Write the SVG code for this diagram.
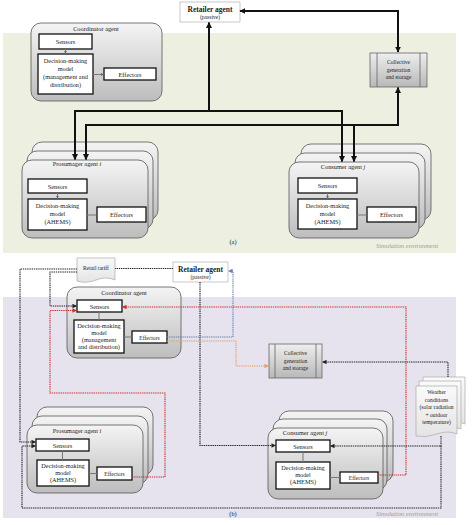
<svg xmlns="http://www.w3.org/2000/svg" width="474" height="525" viewBox="0 0 474 525">
<defs>
<linearGradient id="ag" x1="0" y1="0" x2="0" y2="1"><stop offset="0" stop-color="#f4f4f4"/><stop offset="1" stop-color="#bdbdbd"/></linearGradient>
<linearGradient id="cg" x1="0" y1="0" x2="0" y2="1"><stop offset="0" stop-color="#eeeeee"/><stop offset="1" stop-color="#b8b8b8"/></linearGradient>
<linearGradient id="dg" x1="0" y1="0" x2="0" y2="1"><stop offset="0" stop-color="#fafafa"/><stop offset="1" stop-color="#e4e4e4"/></linearGradient>
<marker id="ak" viewBox="0 0 10 10" refX="9" refY="5" markerWidth="6" markerHeight="6" markerUnits="userSpaceOnUse" orient="auto-start-reverse"><path d="M0,0 L10,5 L0,10 z" fill="#111"/></marker>
<marker id="ad" viewBox="0 0 10 10" refX="9" refY="5" markerWidth="4.5" markerHeight="4.5" markerUnits="userSpaceOnUse" orient="auto-start-reverse"><path d="M0,0 L10,5 L0,10 z" fill="#222"/></marker>
<marker id="ar" viewBox="0 0 10 10" refX="9" refY="5" markerWidth="4.5" markerHeight="4.5" markerUnits="userSpaceOnUse" orient="auto-start-reverse"><path d="M0,0 L10,5 L0,10 z" fill="#c8302f"/></marker>
<marker id="ab" viewBox="0 0 10 10" refX="9" refY="5" markerWidth="4.5" markerHeight="4.5" markerUnits="userSpaceOnUse" orient="auto-start-reverse"><path d="M0,0 L10,5 L0,10 z" fill="#6a7fb5"/></marker>
<marker id="ao" viewBox="0 0 10 10" refX="9" refY="5" markerWidth="4.5" markerHeight="4.5" markerUnits="userSpaceOnUse" orient="auto-start-reverse"><path d="M0,0 L10,5 L0,10 z" fill="#e0a070"/></marker>
<marker id="as" viewBox="0 0 10 10" refX="9" refY="5" markerWidth="3" markerHeight="3" markerUnits="userSpaceOnUse" orient="auto-start-reverse"><path d="M0,0 L10,5 L0,10 z" fill="#666"/></marker>
<style>
text{font-family:"Liberation Serif","Times New Roman",serif;fill:#222;text-anchor:middle}
.t{font-size:6.3px}
.s{font-size:5.6px}
.rt{font-size:7.5px;font-weight:bold}
.it{font-style:italic;fill:#9a9a9a;font-size:6.5px;text-anchor:end}
.agent{fill:url(#ag);stroke:#555;stroke-width:0.8}
.box{fill:#fff;stroke:#111;stroke-width:1.3}
.ret{fill:#fff;stroke:#bbb;stroke-width:0.8}
.coll{fill:url(#cg);stroke:#666;stroke-width:0.8}
.in{stroke:#666;stroke-width:0.8;fill:none}
.doc{fill:url(#dg);stroke:#aaa;stroke-width:0.7}
.thick{fill:none;stroke:#111;stroke-width:2}
.bd{fill:none;stroke:#222;stroke-width:1.1;stroke-dasharray:1.4 0.8}
.rd{fill:none;stroke:#c8302f;stroke-width:1.1;stroke-dasharray:1.4 0.8}
.bl{fill:none;stroke:#6a7fb5;stroke-width:1.1;stroke-dasharray:1.4 0.8}
.or{fill:none;stroke:#e0a070;stroke-width:1.1;stroke-dasharray:1.4 0.8}
.lk{stroke:#777;stroke-width:1;fill:none}
</style>
</defs>

<!-- backgrounds -->
<rect x="3" y="33" width="453" height="220" fill="#edf0e1"/>
<rect x="3" y="297" width="453" height="221" fill="#e7e3ee"/>
<text x="233" y="244" class="t">(a)</text>
<text x="438" y="248" class="it">Simulation environment</text>
<text x="233" y="516" class="t">(b)</text>
<text x="438" y="516" class="it">Simulation environment</text>

<!-- ===== (a) ===== -->
<g id="a-retailer">
<rect class="ret" x="180" y="2" width="60" height="20"/>
<text x="210" y="12" class="rt">Retailer agent</text>
<text x="210" y="19" class="s">(passive)</text>
</g>
<g id="a-coordinator">
<rect class="agent" x="31" y="23" width="131" height="78" rx="10"/>
<text x="96" y="30.5" class="t">Coordinator agent</text>
<rect class="box" x="39" y="34" width="53" height="15"/>
<text x="65.5" y="44" class="t">Sensors</text>
<rect class="box" x="38" y="54" width="55" height="40"/>
<text x="65.5" y="63" class="t">Decision-making</text>
<text x="65.5" y="71" class="t">model</text>
<text x="65.5" y="79" class="t">(management and</text>
<text x="65.5" y="87" class="t">distribution)</text>
<rect class="box" x="104" y="68" width="52" height="12"/>
<text x="130" y="76.5" class="t">Effectors</text>
<path class="lk" d="M65.5,49 V53.5" marker-end="url(#as)"/>
<path class="lk" d="M93,74.5 H103.5" marker-end="url(#as)"/>
</g>
<g id="a-collective">
<rect class="coll" x="370" y="53" width="57" height="34"/>
<path class="in" d="M377,53 V87 M420,53 V87"/>
<text x="398.5" y="64" class="s">Collective</text>
<text x="398.5" y="71.5" class="s">generation</text>
<text x="398.5" y="79" class="s">and storage</text>
</g>
<g id="a-prosumager">
<rect class="agent" x="32" y="142" width="126" height="78" rx="10"/>
<rect class="agent" x="27" y="151" width="126" height="78" rx="10"/>
<rect class="agent" x="22" y="160" width="126" height="78" rx="10"/>
<text x="77" y="166" class="t">Prosumager  agent <tspan font-style="italic">i</tspan></text>
<rect class="box" x="28" y="179" width="59" height="14"/>
<text x="57.5" y="188.5" class="t">Sensors</text>
<rect class="box" x="28" y="199" width="59" height="31"/>
<text x="57.5" y="207.5" class="t">Decision-making</text>
<text x="57.5" y="215.5" class="t">model</text>
<text x="57.5" y="223.5" class="t">(AHEMS)</text>
<rect class="box" x="97" y="207" width="49" height="15"/>
<text x="121.5" y="216.5" class="t">Effectors</text>
<path class="lk" d="M57.5,193 V198.5" marker-end="url(#as)"/>
<path class="lk" d="M87,215 H96.5"/>
</g>
<g id="a-consumer">
<rect class="agent" x="301" y="144" width="130" height="76" rx="10"/>
<rect class="agent" x="295" y="153" width="130" height="76" rx="10"/>
<rect class="agent" x="289" y="162" width="130" height="76" rx="10"/>
<text x="343" y="169" class="t">Consumer agent <tspan font-style="italic">j</tspan></text>
<rect class="box" x="298" y="178" width="59" height="15"/>
<text x="327.5" y="188" class="t">Sensors</text>
<rect class="box" x="298" y="199" width="59" height="30"/>
<text x="327.5" y="207.5" class="t">Decision-making</text>
<text x="327.5" y="215.5" class="t">model</text>
<text x="327.5" y="223.5" class="t">(AHEMS)</text>
<rect class="box" x="367" y="207" width="49" height="15"/>
<text x="391.5" y="216.5" class="t">Effectors</text>
<path class="lk" d="M327.5,193 V198.5" marker-end="url(#as)"/>
<path class="lk" d="M357,215 H366.5"/>
</g>
<g id="a-connectors">
<path class="thick" d="M240,11 H398 V52" marker-start="url(#ak)" marker-end="url(#ak)"/>
<path class="thick" d="M209,111 V22.5" marker-end="url(#ak)"/>
<path class="thick" d="M75,159.5 V111 H342 V161.5" marker-start="url(#ak)" marker-end="url(#ak)"/>
<path class="thick" d="M86,159.5 V125 H398 V87.5" marker-start="url(#ak)" marker-end="url(#ak)"/>
<path class="thick" d="M354,125 V161.5" marker-end="url(#ak)"/>
</g>

<!-- ===== (b) ===== -->
<g id="b-tariff">
<path class="doc" d="M77,258 H115 V280 Q106,276 96,280 T77,281 Z"/>
<text x="96" y="270" class="s">Retail tariff</text>
</g>
<g id="b-retailer">
<rect class="ret" x="173" y="262" width="55" height="20"/>
<text x="200.5" y="271.5" class="rt">Retailer agent</text>
<text x="200.5" y="278.5" class="s">(passive)</text>
</g>
<g id="b-coordinator">
<rect class="agent" x="67" y="287" width="114" height="71" rx="10"/>
<text x="124" y="294.5" class="t">Coordinator agent</text>
<rect class="box" x="77" y="300" width="45" height="12"/>
<text x="99.5" y="308.5" class="t">Sensors</text>
<rect class="box" x="74" y="320" width="50" height="33"/>
<text x="99" y="327.5" class="t">Decision-making</text>
<text x="99" y="334.5" class="t">model</text>
<text x="99" y="341.5" class="t">(management</text>
<text x="99" y="348.5" class="t">and distribution)</text>
<rect class="box" x="132" y="331" width="35" height="12"/>
<text x="149.5" y="339.5" class="s">Effectors</text>
<path class="lk" d="M99,312 V320"/>
<path class="lk" d="M124,337 H132"/>
</g>
<g id="b-collective">
<rect class="coll" x="269" y="344" width="53" height="34"/>
<path class="in" d="M275,344 V378 M316,344 V378"/>
<text x="295.5" y="355" class="s">Collective</text>
<text x="295.5" y="362.5" class="s">generation</text>
<text x="295.5" y="370" class="s">and storage</text>
</g>
<g id="b-weather">
<path class="doc" d="M423,377 H465 V424 Q456,420 445,424 T423,425 Z"/>
<path class="doc" d="M419,381 H461 V429 Q452,425 441,429 T419,430 Z"/>
<path class="doc" d="M416,386 H457 V434 Q448,430 437,434 T416,436 Z"/>
<text x="436.5" y="394" class="s">Weather</text>
<text x="436.5" y="401.5" class="s">conditions</text>
<text x="436.5" y="409" class="s">(solar radiation</text>
<text x="436.5" y="416.5" class="s">+ outdoor</text>
<text x="436.5" y="424" class="s">temperature)</text>
</g>
<g id="b-prosumager">
<rect class="agent" x="37" y="407" width="116" height="68" rx="10"/>
<rect class="agent" x="32" y="416" width="116" height="68" rx="10"/>
<rect class="agent" x="27" y="425" width="116" height="68" rx="10"/>
<text x="77" y="433" class="t">Prosumager  agent <tspan font-style="italic">i</tspan></text>
<rect class="box" x="36" y="439" width="53" height="12"/>
<text x="62.5" y="447.5" class="t">Sensors</text>
<rect class="box" x="37" y="460" width="52" height="26"/>
<text x="63" y="467.5" class="t">Decision-making</text>
<text x="63" y="474.5" class="t">model</text>
<text x="63" y="482" class="t">(AHEMS)</text>
<rect class="box" x="97" y="467" width="35" height="13"/>
<text x="114.5" y="475.5" class="s">Effectors</text>
<path class="lk" d="M62.5,451 V460"/>
<path class="lk" d="M89,473.5 H97"/>
</g>
<g id="b-consumer">
<rect class="agent" x="279" y="411" width="114" height="71" rx="10"/>
<rect class="agent" x="273" y="419" width="114" height="71" rx="10"/>
<rect class="agent" x="268" y="428" width="115" height="71" rx="10"/>
<text x="305" y="434.5" class="t">Consumer agent <tspan font-style="italic">j</tspan></text>
<rect class="box" x="276" y="440" width="54" height="12"/>
<text x="303" y="448.5" class="t">Sensors</text>
<rect class="box" x="276" y="462" width="54" height="27"/>
<text x="303" y="469.5" class="t">Decision-making</text>
<text x="303" y="476.5" class="t">model</text>
<text x="303" y="484" class="t">(AHEMS)</text>
<rect class="box" x="340" y="472" width="38" height="11"/>
<text x="359" y="479.5" class="s">Effectors</text>
<path class="lk" d="M303,452 V462"/>
<path class="lk" d="M330,477.5 H340"/>
</g>
<g id="b-connectors">
<path class="bd" d="M173,268.5 H115"/>
<path class="bd" d="M77,269 H20 V442 H35.5" marker-end="url(#ad)"/>
<path class="bd" d="M77,272 H50 V306 H76.5" marker-end="url(#ad)"/>
<path class="bd" d="M200,282 V445.5 H275.5" marker-end="url(#ad)"/>
<path class="bd" d="M448,377 V362 H322.5" marker-end="url(#ad)"/>
<path class="bd" d="M441,436 V446 H330.5" marker-end="url(#ad)"/>
<path class="bd" d="M441,446 V508 H22 V446 H35.5" marker-end="url(#ad)"/>
<path class="rd" d="M378,475 H406 V307 H122.5" marker-end="url(#ar)"/>
<path class="rd" d="M132,477 H165 V393 H50 V310.5 H76.5" marker-end="url(#ar)"/>
<path class="bl" d="M167,337 H233 V271 H228.5" marker-end="url(#ab)"/>
<path class="or" d="M167,341 H236 V366 H268.5" marker-end="url(#ao)"/>
</g>
</svg>
